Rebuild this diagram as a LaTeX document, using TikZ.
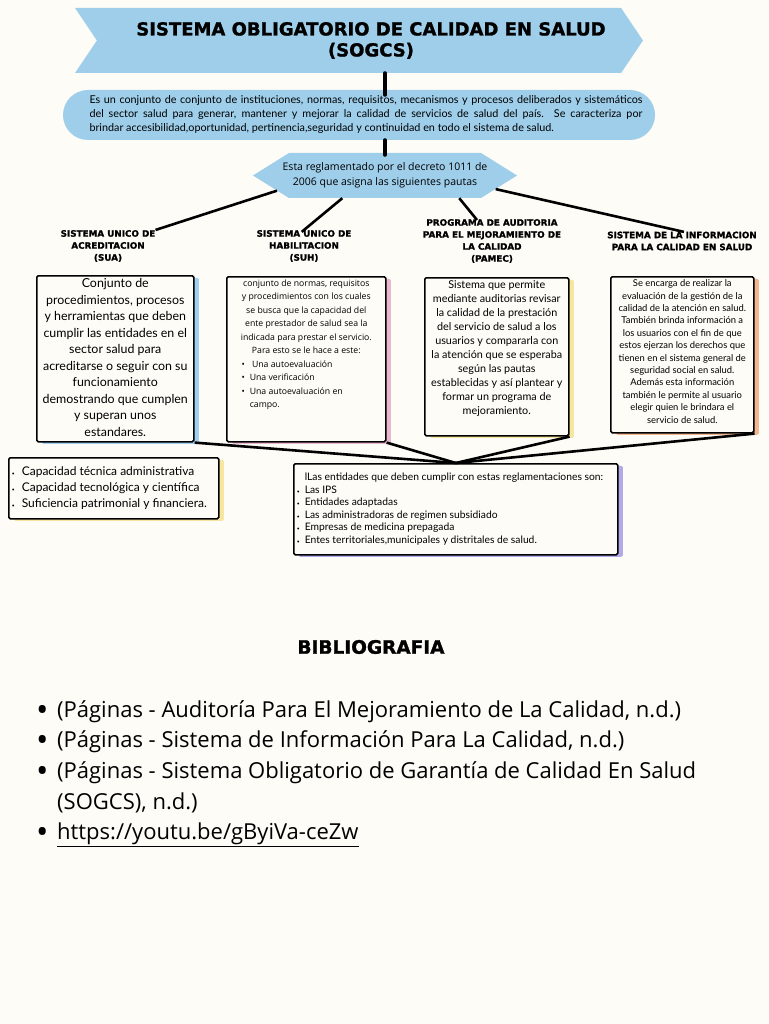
\documentclass[tikz,border=0pt]{standalone}
\usepackage{fontspec}
\setmainfont{Lato}
\newfontfamily\opensans{Open Sans}
\newfontfamily\biblfont{Open Sans}
\newfontfamily\heavyfont{DejaVu Sans}[FakeBold=1.3]
\usetikzlibrary{shapes.symbols, shadows, calc, positioning}

\definecolor{paper}{RGB}{253,252,246}
\definecolor{skyblue}{RGB}{158,206,234}
\definecolor{shblue}{RGB}{160,208,238}
\definecolor{shpink}{RGB}{234,184,204}
\definecolor{shyellow}{RGB}{247,230,160}
\definecolor{shpeach}{RGB}{241,184,144}
\definecolor{shlilac}{RGB}{178,170,230}

\newcommand{\cardbox}[4][t]{\parbox[c][#2pt][#1]{#3pt}{#4}}
\newcommand{\dotmark}[1]{\makebox[#1pt][l]{\fontsize{5}{5}\selectfont\textbullet}}
\newcommand{\suhbullet}{\makebox[20pt][r]{\textbullet\hspace{5pt}}}
\newcommand{\refitem}{\makebox[21pt][l]{\raisebox{-4pt}{\scalebox{1.5}{\textbullet}}}}

\begin{document}
\begin{tikzpicture}[
    x=1pt, y=-1pt,
    banner/.style={shape=signal, signal from=west and east, signal pointer angle=112,
        fill=skyblue, minimum width=568pt, minimum height=65pt, inner sep=0pt,
        align=center, font=\heavyfont\bfseries\fontsize{18}{21}\selectfont},
    descr/.style={fill=skyblue, rounded corners=25pt, minimum width=592pt, minimum height=50pt, inner sep=0pt},
    hexa/.style={shape=signal, signal to=west and east, signal pointer angle=64,
        fill=skyblue, minimum height=45pt, inner sep=0pt,
        align=center, font=\opensans\fontsize{10.5}{15}\selectfont},
    heading/.style={font=\heavyfont\bfseries\fontsize{8.8}{12}\selectfont, align=center, inner sep=0pt},
    card/.style={draw, line width=1.6pt, fill=paper, rounded corners=1.5pt, inner sep=3pt, anchor=north west,
        drop shadow={shadow xshift=5pt, shadow yshift=-2pt, fill=#1, opacity=1}},
    link/.style={line width=2.6pt},
    stem/.style={line width=4pt, line cap=round}
]
\useasboundingbox (0,0) rectangle (768,1024);
\fill[paper] (0,0) rectangle (768,1024);

\node[banner] (title) at (359,40.5) {\hspace*{24pt}SISTEMA OBLIGATORIO DE CALIDAD EN SALUD\\\hspace*{24pt}(SOGCS)};

\node[descr] (descr) at (359,115) {\hspace*{14pt}\parbox{553pt}{\fontsize{10.8}{14}\selectfont
Es un conjunto de conjunto de instituciones, normas, requisitos, mecanismos y procesos deliberados y sistemáticos\linebreak
del sector salud para generar, mantener y mejorar la calidad de servicios de salud del país. Se caracteriza por\linebreak
brindar accesibilidad,oportunidad, pertinencia,seguridad y continuidad en todo el sistema de salud.}};

\node[hexa] (hexa) at (385,175.5) {\makebox[192pt]{Esta reglamentado por el decreto 1011 de}\\\makebox[192pt]{2006 que asigna las siguientes pautas}};

\draw[stem, shorten >=-5pt] (hexa.north |- title.south) -- (hexa.north |- descr.north);
\draw[stem, shorten >=-2pt] (hexa.north |- descr.south) -- (hexa.north);

\node[heading] (suaHead) at (108,246) {SISTEMA UNICO DE\\ACREDITACION\\(SUA)};
\node[heading] (suhHead) at (304,246) {SISTEMA UNICO DE\\HABILITACION\\(SUH)};
\node[heading] (pamecHead) at (492,241) {PROGRAMA DE AUDITORIA\\PARA EL MEJORAMIENTO DE\\LA CALIDAD\\(PAMEC)};
\node[heading] (sicHead) at (682,241) {SISTEMA DE LA INFORMACION\\PARA LA CALIDAD EN SALUD};

\draw[link] (hexa.188) -- (suaHead.north east);
\draw[link, shorten >=-3pt] (hexa.208) -- (suhHead.north);
\draw[link] (hexa.343) -- ($(pamecHead.north)+(-15,1)$);
\draw[link, shorten >=-2pt] (hexa.353) -- (sicHead.north);

\node[card=shblue, inner xsep=2pt] (sua) at (36,275) {\cardbox{160}{153}{\centering\fontsize{12.4}{16.5}\selectfont
Conjunto de\\ procedimientos, procesos\\ y herramientas que deben\\ cumplir las entidades en el\\ sector salud para\\
acreditarse o seguir con su\\ funcionamiento\\ demostrando que cumplen\\ y superan unos\\ estandares.}};

\node[card=shpink] (suh) at (226,276) {\cardbox{159}{153}{\opensans\fontsize{8.7}{13.5}\selectfont\centering
conjunto de normas, requisitos\\ y procedimientos con los cuales\\ se busca que la capacidad del\\ ente prestador de salud sea la\\
indicada para prestar el servicio.\\ Para esto se le hace a este:\par\raggedright
\suhbullet\ Una autoevaluación\\
\suhbullet Una verificación\\
\suhbullet Una autoevaluación en\\
\hspace*{20pt}campo.}};

\node[card=shyellow] (pamec) at (424,277) {\cardbox{152}{138}{\centering\fontsize{10.8}{14}\selectfont
Sistema que permite\\ mediante auditorias revisar\\ la calidad de la prestación\\ del servicio de salud a los\\ usuarios y compararla con\\
la atención que se esperaba\\ según las pautas\\ establecidas y así plantear y\\ formar un programa de\\ mejoramiento.}};

\node[card=shpeach] (sic) at (610,276) {\cardbox{150}{137}{\centering\fontsize{9.4}{12.4}\selectfont
Se encarga de realizar la\\ evaluación de la gestión de la\\ calidad de la atención en salud.\\ También brinda información a\\
los usuarios con el fin de que\\ estos ejerzan los derechos que\\ tienen en el sistema general de\\ seguridad social en salud.\\
Además esta información\\ también le permite al usuario\\ elegir quien le brindara el\\ servicio de salud.}};

\node[card=shyellow] (capac) at (8,457) {\cardbox[c]{55}{204}{\raggedright\fontsize{12}{16}\selectfont
\dotmark{10}Capacidad técnica administrativa\\
\dotmark{10}Capacidad tecnológica y científica\\
\dotmark{10}Suficiencia patrimonial y financiera.}};

\node[card=shlilac] (ent) at (293,463) {\cardbox[c]{85}{318}{\raggedright\fontsize{10.3}{12.5}\selectfont
\hspace*{8pt}lLas entidades que deben cumplir con estas reglamentaciones son:\\
\dotmark{8}Las IPS\\
\dotmark{8}Entidades adaptadas\\
\dotmark{8}Las administradoras de regimen subsidiado\\
\dotmark{8}Empresas de medicina prepagada\\
\dotmark{8}Entes territoriales,municipales y distritales de salud.}};

\draw[link] (sua.south east) -- (ent.north);
\draw[link] (suh.south east) -- (ent.north);
\draw[link] (pamec.south east) -- (ent.north);
\draw[link] (sic.south east) -- (ent.north);

\node[font=\heavyfont\bfseries\fontsize{18.5}{22}\selectfont] (biblio) at (371,647) {BIBLIOGRAFIA};

\node[anchor=north west, inner sep=0pt, align=left, font=\biblfont\fontsize{22}{30.7}\selectfont] (refs) at (36,700) {%
\refitem(Páginas - Auditoría Para El Mejoramiento de La Calidad, n.d.)\\
\refitem(Páginas - Sistema de Información Para La Calidad, n.d.)\\
\refitem(Páginas - Sistema Obligatorio de Garantía de Calidad En Salud\\
\hspace*{21pt}(SOGCS), n.d.)\\
\refitem\underline{https://youtu.be/gByiVa-ceZw}};

\end{tikzpicture}
\end{document}
